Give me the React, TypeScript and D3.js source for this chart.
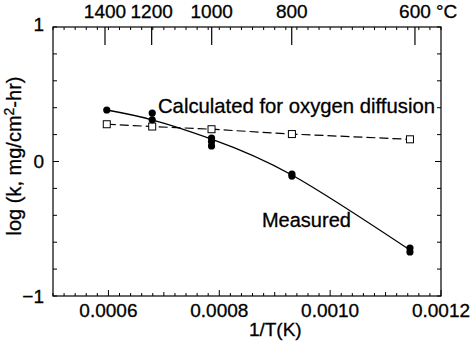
import React from "react";
import * as d3 from "d3";

const invT = [0.000597, 0.000679, 0.000786, 0.000931, 0.001144];
const measuredX = [0.000597, 0.000679, 0.000679, 0.000786, 0.000786, 0.000786, 0.000931, 0.000931, 0.001144, 0.001144];
const measuredY = [0.383, 0.36, 0.31, 0.174, 0.148, 0.116, -0.093, -0.108, -0.643, -0.673];
const measuredFit = [0.383, 0.31, 0.167, -0.1, -0.658];
const calculated = [0.277, 0.26, 0.24, 0.204, 0.165];
const bottomTicks = [0.0006, 0.0008, 0.001, 0.0012];
const bottomTickLabels = ["0.0006", "0.0008", "0.0010", "0.0012"];
const topTickLabels = ["1400", "1200", "1000", "800", "600"];
const topTickInvT = [0.0005938, 0.000678, 0.0007863, 0.0009307, 0.001153];
const yTicks = [-1, 0, 1];
const yTickLabels = ["\u22121", "0", "1"];

const W = 474;
const H = 356;
const font = "'Liberation Sans', Arial, Helvetica, sans-serif";
const textStroke = { stroke: "#000", strokeWidth: 0.3 };

export default function App() {
  const x = d3.scaleLinear().domain([0.0005, 0.0012]).range([53, 441]);
  const y = d3.scaleLinear().domain([-1, 1]).range([296, 27]);
  const [x0, x1] = x.range();
  const [y0, y1] = y.range();

  const minorX = d3.range(0, 36).map((i) => 0.0005 + i * 0.00002);
  const minorY = d3.range(0, 11).map((i) => -1 + i * 0.2);

  const fitLine = d3
    .line<number>()
    .x((_, i) => x(invT[i]))
    .y((d) => y(d))
    .curve(d3.curveNatural)(measuredFit) as string;
  const calcLine = d3
    .line<number>()
    .x((_, i) => x(invT[i]))
    .y((d) => y(d))(calculated) as string;

  const near = (a: number, b: number) => Math.abs(a - b) < 1e-9;
  const isMajorX = (v: number) => bottomTicks.some((t) => near(t, v));
  const isMidX = (v: number) => [0.0007, 0.0009, 0.0011].some((t) => near(t, v));

  return (
    <svg
      width={W}
      height={H}
      style={{ position: "absolute", left: 0, top: 0, background: "#fff" }}
      fontFamily={font}
    >
      <rect x={0} y={0} width={W} height={H} fill="#fff" />
      {/* frame */}
      <rect x={x0} y={y1} width={x1 - x0} height={y0 - y1} fill="none" stroke="#000" strokeWidth={1.2} />

      {/* bottom ticks */}
      {minorX.map((v, i) => (
        <line key={"bm" + i} x1={x(v)} x2={x(v)} y1={y0} y2={y0 - (isMajorX(v) ? 6 : isMidX(v) ? 4 : 3)} stroke="#000" strokeWidth={1} />
      ))}
      {/* top minor ticks */}
      {minorX.map((v, i) => (
        <line key={"tm" + i} x1={x(v)} x2={x(v)} y1={y1} y2={y1 + 3} stroke="#000" strokeWidth={1} />
      ))}
      {/* top major temperature ticks */}
      {topTickInvT.map((v, i) => (
        <line key={"tM" + i} x1={x(v)} x2={x(v)} y1={y1} y2={y1 + 18} stroke="#000" strokeWidth={1.2} />
      ))}
      {/* left and right ticks */}
      {minorY.map((v, i) => (
        <g key={"ym" + i}>
          <line x1={x0} x2={x0 + (near(v, 0) ? 6 : 4)} y1={y(v)} y2={y(v)} stroke="#000" strokeWidth={1} />
          <line x1={x1} x2={x1 - (near(v, 0) ? 6 : 4)} y1={y(v)} y2={y(v)} stroke="#000" strokeWidth={1} />
        </g>
      ))}

      <g fill="#000" {...textStroke}>
        {/* tick labels */}
        {bottomTicks.map((v, i) => (
          <text key={"bl" + i} x={x(v)} y={y0 + 21} fontSize={19} textAnchor="middle">
            {bottomTickLabels[i]}
          </text>
        ))}
        {topTickInvT.map((v, i) => (
          <text key={"tl" + i} x={x(v)} y={y1 - 9.5} fontSize={19} textAnchor="middle">
            {topTickLabels[i]}
          </text>
        ))}
        <text x={x(topTickInvT[4]) + 21} y={y1 - 9.5} fontSize={19} textAnchor="start">
          °C
        </text>
        {yTicks.map((v, i) => (
          <text key={"yl" + i} x={x0 - 9} y={y(v) + (v === 1 ? -3 : 0)} dy="0.35em" fontSize={19} textAnchor="end">
            {yTickLabels[i]}
          </text>
        ))}

        {/* axis titles */}
        <text x={x(0.0008) + 56} y={336} fontSize={19} textAnchor="middle">
          1/T(K)
        </text>
        <text transform={`translate(21,156) rotate(-90)`} fontSize={20} textAnchor="middle">
          log (k, mg/cm<tspan dy="-7" fontSize={14}>2</tspan>
          <tspan dy="7">-hr)</tspan>
        </text>

        {/* annotations */}
        <text x={x(0.0006894)} y={y(0.363)} fontSize={20.3}>
          Calculated for oxygen diffusion
        </text>
        <text x={x(0.000877)} y={y(-0.487)} fontSize={20}>
          Measured
        </text>
      </g>

      {/* lines */}
      <path d={calcLine} fill="none" stroke="#000" strokeWidth={1.2} strokeDasharray="9,4" />
      <path d={fitLine} fill="none" stroke="#000" strokeWidth={1.3} />

      {/* markers */}
      {calculated.map((v, i) => (
        <rect key={"sq" + i} x={x(invT[i]) - 3.5} y={y(v) - 3.5} width={7} height={7} fill="#fff" stroke="#000" strokeWidth={1} />
      ))}
      {measuredY.map((v, i) => (
        <circle key={"c" + i} cx={x(measuredX[i])} cy={y(v)} r={3.6} fill="#000" />
      ))}
    </svg>
  );
}
